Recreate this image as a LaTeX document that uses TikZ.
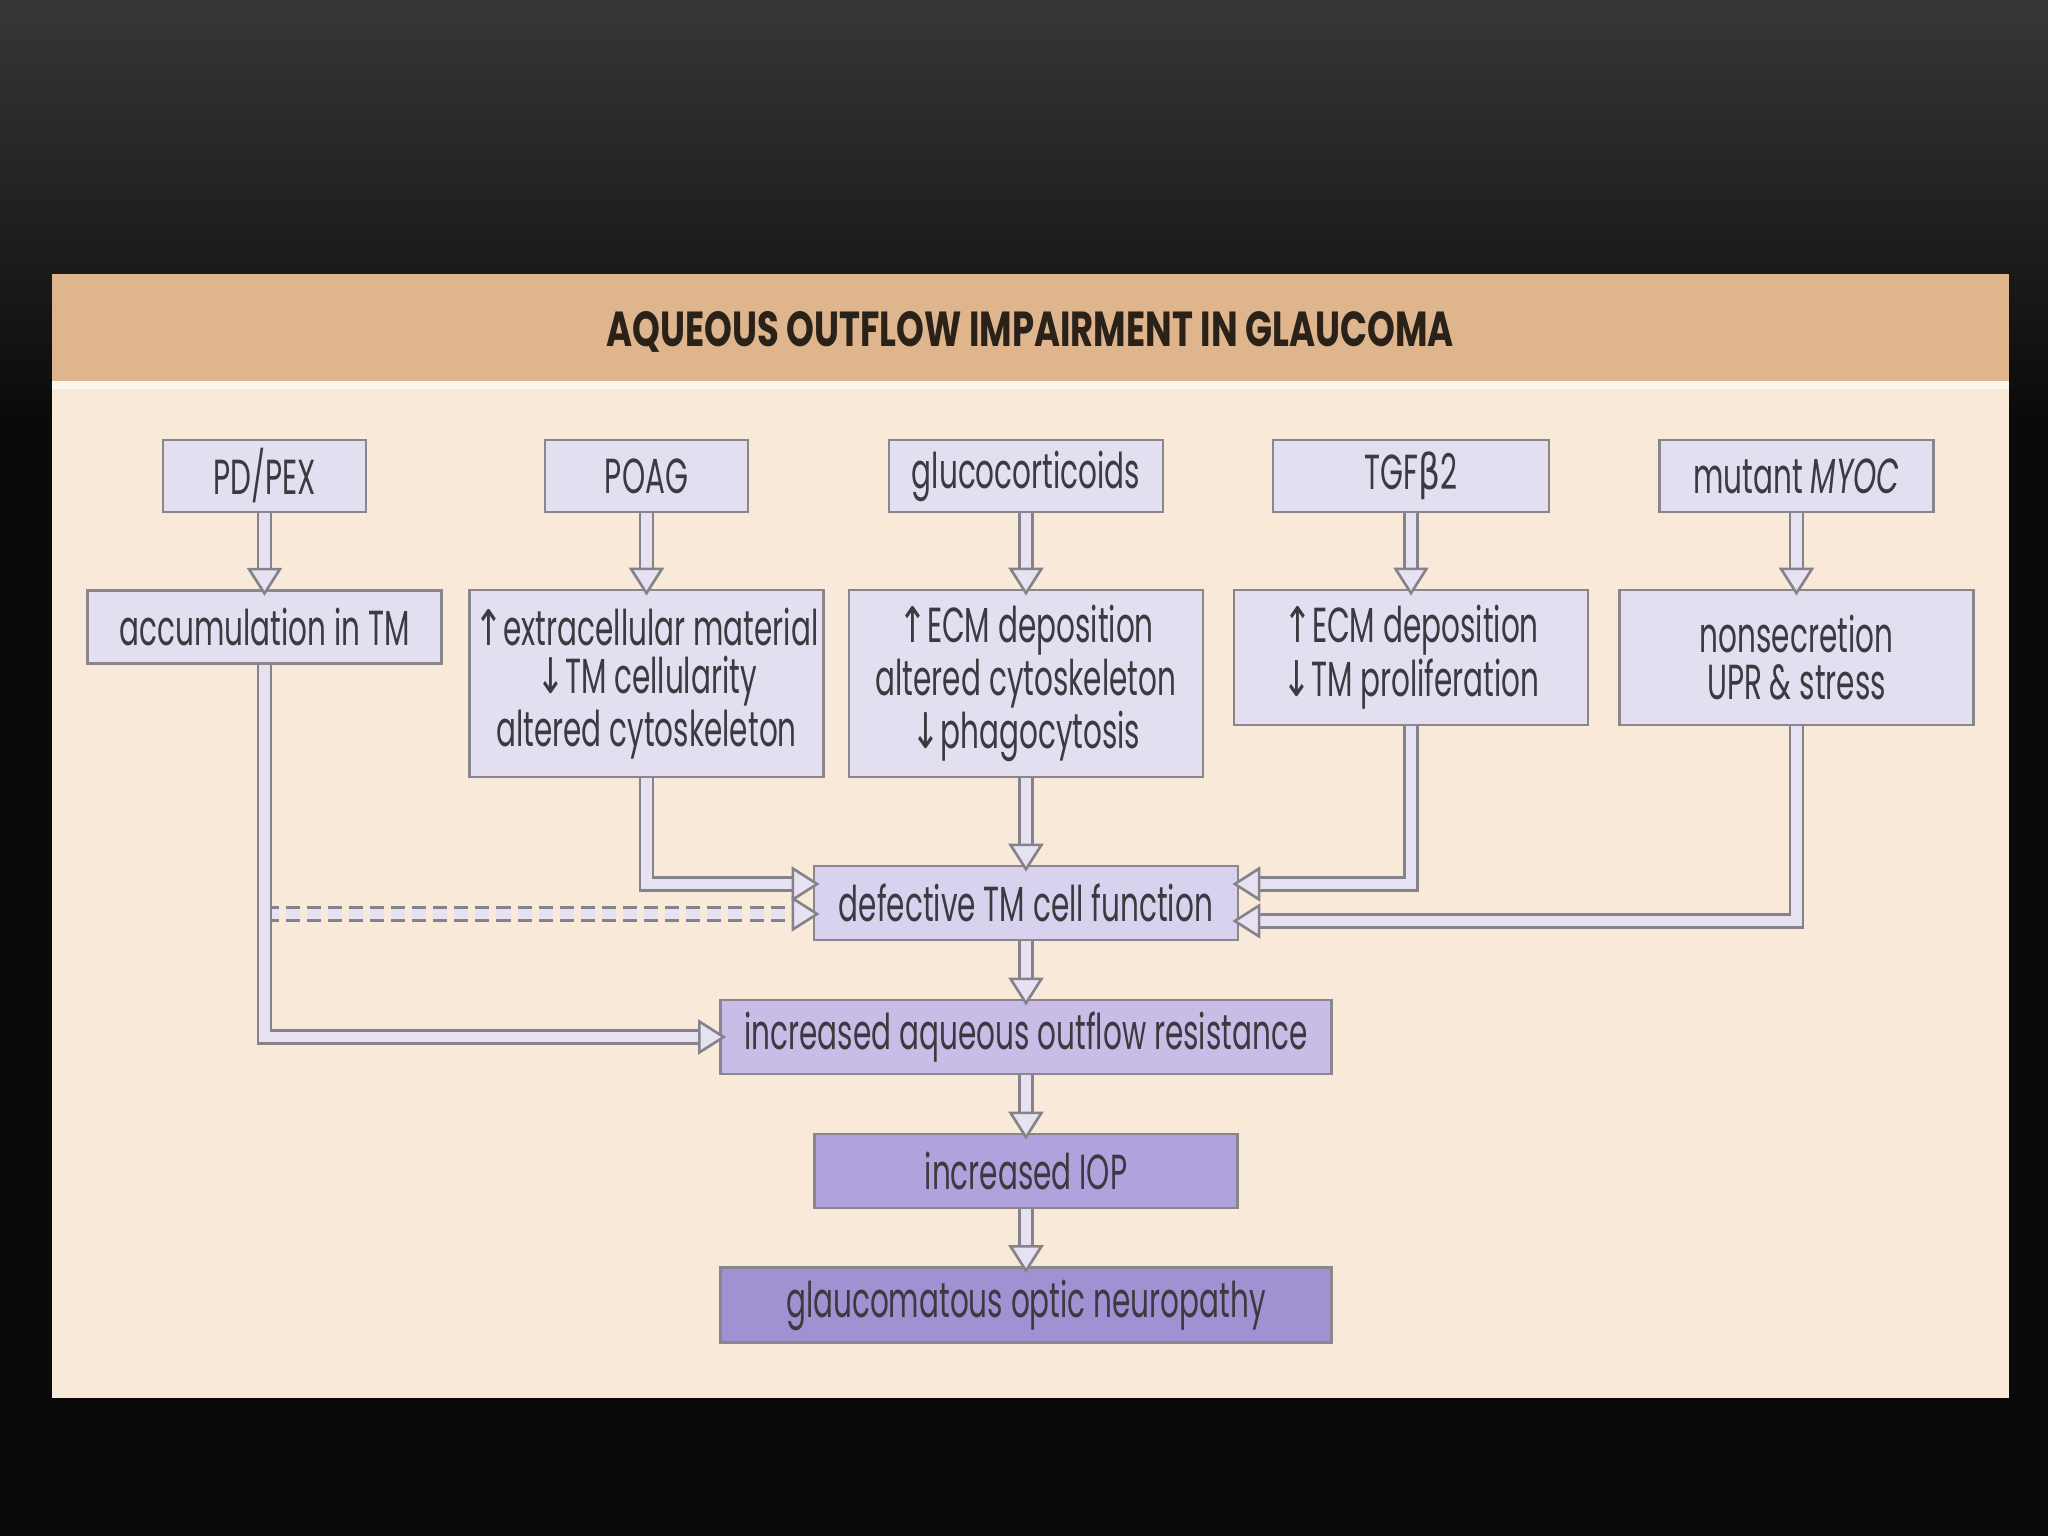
\documentclass[tikz,border=0pt]{standalone}
\usepackage{fontspec}
\setmainfont{Poppins}[FakeStretch=0.6]
\newfontfamily\headfont{Poppins}[FakeStretch=0.72]
\newfontfamily\symfont{DejaVu Sans}[FakeStretch=0.7]
\definecolor{pagedark}{HTML}{0A0A0A}
\definecolor{topgray}{HTML}{373737}
\definecolor{panelcream}{HTML}{F8E9D8}
\definecolor{titletan}{HTML}{DFB58E}
\definecolor{stripwhite}{HTML}{FDF7EE}
\definecolor{titleink}{HTML}{2A2118}
\definecolor{inkgray}{HTML}{3C3A40}
\definecolor{boxline}{HTML}{8A868E}
\definecolor{boxfill}{HTML}{E3DFF0}
\definecolor{defectfill}{HTML}{D9D2EE}
\definecolor{aqueousfill}{HTML}{C9BDE8}
\definecolor{iopfill}{HTML}{AFA2DD}
\definecolor{gonfill}{HTML}{A091D3}
\definecolor{flowline}{HTML}{86828C}
\definecolor{flowfill}{HTML}{E6E2F2}
\usetikzlibrary{arrows.meta, calc, positioning}
\newcommand{\incr}{{\symfont ↑}}
\newcommand{\decr}{{\symfont ↓}}

\tikzset{
  cause/.style={draw=boxline, line width=0.8pt, fill=boxfill, inner sep=0pt,
    minimum height=0.72cm, text=inkgray, align=center,
    font=\fontsize{14}{13.6}\selectfont},
  effect/.style={cause, minimum width=3.54cm},
  stage/.style={cause, minimum height=0.74cm},
  flow/.style={draw=flowline, line width=0.75pt, double=flowfill, double distance=3pt,
    shorten >=-2pt, -{Triangle[open, length=8pt, width=10pt, fill=flowfill]}},
  flowdash/.style={flow, dash pattern=on 4pt off 2pt},
}

\begin{document}
\begin{tikzpicture}
  \useasboundingbox (0,0) rectangle (20.48,-15.36);
  % slide and panel
  \fill[pagedark] (0,0) rectangle (20.48,-15.36);
  \shade[top color=topgray, bottom color=pagedark] (0,0) rectangle (20.48,-4.2);
  \fill[panelcream] (0.522,-2.743) rectangle (20.088,-13.976);
  \fill[titletan] (0.522,-2.743) rectangle (20.088,-3.814);
  \fill[stripwhite] (0.522,-3.814) rectangle (20.088,-3.89);
  \node[font=\headfont\fontsize{14}{17}\selectfont\bfseries, text=titleink] (title) at (10.3,-3.32)
    {AQUEOUS OUTFLOW IMPAIRMENT IN GLAUCOMA};

  % causes
  \node[cause, minimum width=2.03cm] (pdpex) at (2.645,-4.76) {PD/PEX};
  \node[cause, minimum width=2.03cm] (poag) at (6.465,-4.76) {POAG};
  \node[cause, minimum width=2.74cm] (gluco) at (10.26,-4.76) {glucocorticoids};
  \node[cause, minimum width=2.76cm] (tgf) at (14.11,-4.76) {TGF{\symfont β}2};
  \node[cause, minimum width=2.74cm] (myoc) at (17.965,-4.76) {mutant \textit{MYOC}};

  % effects in the TM
  \node[effect, minimum height=0.735cm] (accum) at (2.645,-6.27) {accumulation in TM};
  \node[effect, minimum height=1.87cm] (poagfx) at (6.465,-6.835)
    {\incr extracellular material\\ \decr TM cellularity\\ altered cytoskeleton};
  \node[effect, minimum height=1.87cm] (glucofx) at (10.26,-6.835)
    {\incr ECM deposition\\ altered cytoskeleton\\ \decr phagocytosis};
  \node[effect, minimum height=1.35cm] (tgffx) at (14.11,-6.575)
    {\incr ECM deposition\\ \decr TM proliferation};
  \node[effect, minimum height=1.35cm] (myocfx) at (17.965,-6.575)
    {nonsecretion\\ UPR \& stress};

  % common pathway
  \node[stage, minimum width=4.24cm, fill=defectfill] (defect) at (10.26,-9.03) {defective TM cell function};
  \node[stage, minimum width=6.11cm, fill=aqueousfill] (aqueous) at (10.26,-10.37) {increased aqueous outflow resistance};
  \node[stage, minimum width=4.23cm, fill=iopfill] (iop) at (10.26,-11.71) {increased IOP};
  \node[stage, minimum width=6.11cm, minimum height=0.75cm, fill=gonfill] (gon) at (10.26,-13.05) {glaucomatous optic neuropathy};

  \coordinate (poagin) at ($(defect.west)+(0,0.19)$);
  \coordinate (dashin) at ($(defect.west)+(0,-0.11)$);
  \coordinate (tgfin) at ($(defect.east)+(0,0.19)$);
  \coordinate (myocin) at ($(defect.east)+(0,-0.18)$);

  % connectors
  \foreach \src/\dst in {pdpex/accum, poag/poagfx, gluco/glucofx, tgf/tgffx, myoc/myocfx}
    \draw[flow] (\src) -- (\dst);
  \draw[flowdash] (accum.south |- dashin) -- (dashin);
  \draw[flow] (accum.south) |- (aqueous.west);
  \draw[flow] (poagfx.south) |- (poagin);
  \draw[flow] (glucofx) -- (defect);
  \draw[flow] (tgffx.south) |- (tgfin);
  \draw[flow] (myocfx.south) |- (myocin);
  \draw[flow] (defect) -- (aqueous);
  \draw[flow] (aqueous) -- (iop);
  \draw[flow] (iop) -- (gon);
\end{tikzpicture}
\end{document}
